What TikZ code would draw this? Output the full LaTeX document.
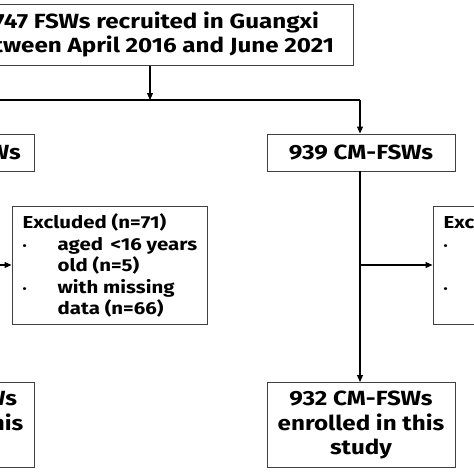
\documentclass[tikz,border=0pt]{standalone}
\usepackage{fontspec}
\setmainfont{Fira Sans}[FakeStretch=1.18]
\usetikzlibrary{arrows.meta}
\begin{document}
\begin{tikzpicture}[x=1pt,y=1pt,
  box/.style={draw=black!75, line width=1pt, rectangle, inner sep=0pt, align=center,
    font=\bfseries\fontsize{20.5}{24.5}\selectfont},
  conn/.style={black, line width=1.1pt},
  arr/.style={conn, -{Triangle[length=7pt,width=6pt]}},
  txt/.style={font=\bfseries\fontsize{17.3}{21.5}\selectfont, inner sep=0pt, align=left}
]
\useasboundingbox (0,0) rectangle (474,-474);
\clip (0,0) rectangle (474,-474);
\newcommand{\bitem}{\makebox[35pt][l]{\fontsize{10}{10}\selectfont\raisebox{1pt}{\textbullet}}}
% boxes
\node[box, minimum width=406, minimum height=61] (top) at (150,-34.5)
  {2747 FSWs recruited in Guangxi\\between April 2016 and June 2021};
\node[box, minimum width=188, minimum height=37] (cmA) at (361,-152.5) {939 CM-FSWs};
\node[box, minimum width=188, minimum height=37] (ncA) at (-60,-152.5) {808 nCM-FSWs};
\node[box, minimum width=188, minimum height=85] (cmB) at (361,-425)
  {932 CM-FSWs\\enrolled in this\\study};
\node[box, minimum width=188, minimum height=85] (ncB) at (-60,-425)
  {737 nCM-FSWs\\enrolled in this\\study};
\node[box, minimum width=195, minimum height=118] (exL) at (109.5,-265) {};
\node[box, minimum width=195, minimum height=118] (exR) at (530.5,-265) {};
\node[txt, anchor=north west] (exLt) at ([xshift=11pt,yshift=-8pt]exL.north west)
  {Excluded (n=71)\\
   \bitem aged \,<16 years\\
   \hspace*{35pt}old (n=5)\\
   \bitem with missing\\
   \hspace*{35pt}data (n=66)};
\node[txt, anchor=north west] (exRt) at ([xshift=11pt,yshift=-8pt]exR.north west)
  {Excluded (n=7)\\
   \bitem aged \,<16 years\\
   \hspace*{35pt}old (n=2)\\
   \bitem with missing\\
   \hspace*{35pt}data (n=5)};
% connectors
\coordinate (sp) at (150,-100);
\coordinate (spL) at (-60,-100);
\coordinate (spR) at (360,-100);
\draw[arr] (top.south) -- (sp);
\draw[conn] (spL) -- (spR);
\draw[arr] (spR) -- (spR |- cmA.north);
\draw[arr] (spL) -- (spL |- ncA.north);
\coordinate (vR) at (360,-171);
\coordinate (vL) at (-60,-171);
\draw[arr] (vR) -- (vR |- cmB.north);
\draw[arr] (vL) -- (vL |- ncB.north);
\coordinate (brR) at (vR |- exR.west);
\coordinate (brL) at (vL |- exL.west);
\draw[arr] (brR) -- (exR.west);
\draw[arr] (brL) -- (exL.west);
\end{tikzpicture}
\end{document}
